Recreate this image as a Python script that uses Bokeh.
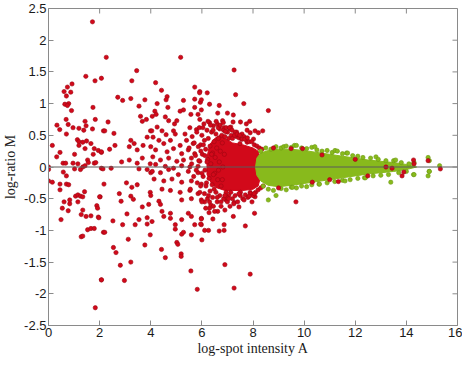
import math
from bokeh.plotting import figure
from bokeh.models import FixedTicker, NumeralTickFormatter, Range1d
from bokeh.embed import file_html
from bokeh.resources import INLINE

# ---------------- data ----------------
x_ticks = [0, 2, 4, 6, 8, 10, 12, 14, 16]
y_ticks = [-2.5, -2, -1.5, -1, -0.5, 0, 0.5, 1, 1.5, 2, 2.5]
x_min, x_max = 0, 16
y_min, y_max = -2.5, 2.5

# sparse red spots (A, M)
red_A = [
    # A 0-2 upper
    1.72, 1.46, 1.82, 2.07, 0.92, 0.74, 0.61, 0.87, 0.70, 0.64, 0.79, 0.74, 1.74, 0.90,
    0.33, 0.44, 0.69, 0.77, 0.96, 1.19, 1.43, 1.47, 1.38, 1.83, 1.72, 2.15, 0.70, 0.15,
    0.32, 0.45, 1.13, 1.19, 1.34, 1.49, 1.66, 1.79, 1.95, 1.19, 1.43, 1.02, 1.75, 1.53,
    1.56, 1.79, 1.85, 2.07, 0.57, 0.67, 0.96, 1.15, 1.25, 1.34, 1.43, 1.02, 0.0, 0.0, 2.07,
    # A 0-2 lower
    0.58, 0.70, 0.0, 0.15, 0.45, 0.70, 0.79, 0.45, 1.41, 1.06, 1.15, 1.25, 1.34, 2.02,
    0.61, 0.83, 0.83, 1.15, 0.54, 0.77, 1.34, 1.28, 1.47, 1.66, 1.89, 1.92, 1.95, 0.49,
    1.28, 1.34, 1.53, 1.66, 1.79, 2.15, 2.07, 1.83,
    # A 2-4 upper
    2.26, 3.45, 3.26, 2.71, 2.90, 3.22, 3.77, 3.54, 3.60, 3.67, 3.83, 2.33, 2.20, 2.56,
    2.60, 2.07, 2.39, 3.22, 3.35, 3.16, 3.47, 3.70, 3.86, 3.99, 2.86, 3.16, 3.47, 3.67,
    2.13, 2.45, 3.54, 3.86, 3.98,
    # A 2-4 lower
    2.17, 2.00, 2.77, 3.05, 3.26, 3.47, 2.84, 3.22, 3.32, 1.97, 2.52, 2.90, 3.07, 3.39,
    3.54, 3.67, 3.92, 2.20, 3.12, 3.98, 3.77, 2.54, 2.64, 2.81, 3.22, 2.07, 2.97, 3.98,
    3.86, 4.05, 3.86,
    # A 4-6 upper
    5.17, 4.19, 4.42, 5.72, 5.92, 4.64, 4.60, 5.28, 5.72, 5.94, 4.25, 4.67, 5.28, 5.15,
    5.72, 5.98, 4.16, 4.06, 4.21, 4.57, 4.70, 4.93, 5.02, 5.57, 5.85, 5.92, 4.25, 4.04,
    4.44, 4.60, 4.89, 4.96, 5.34, 5.53, 5.79, 4.09, 4.32, 4.51, 4.77, 5.15, 5.40, 5.66,
    4.00, 4.19, 4.64, 4.89, 5.21, 5.47, 5.72, 4.08, 4.38, 4.70, 5.02, 5.28, 5.59, 5.92,
    4.19, 4.57, 4.89, 5.21, 5.53, 5.85, 4.00,
    # A 4-6 lower
    4.06, 4.38, 4.70, 5.08, 5.47, 5.85, 4.13, 4.51, 4.83, 5.21, 5.59, 5.98, 4.44, 4.77,
    5.15, 5.53, 5.85, 4.00, 5.21, 5.59, 5.98, 4.32, 4.38, 4.44, 4.51, 4.77, 4.77, 4.96,
    4.96, 5.21, 5.47, 5.59, 5.98, 5.98, 5.72, 5.21, 5.28, 5.02, 5.06, 5.19, 5.19, 5.59,
    4.42, 4.57, 5.57, 5.82,
    # A 6-8 outer
    7.26, 7.32, 7.64, 5.91, 6.21, 5.98, 6.30, 6.68, 7.00, 7.23, 7.22, 7.51, 7.74, 7.87,
    7.77, 6.81, 6.62, 6.87, 7.13, 7.36, 7.57, 7.89, 8.08, 8.02, 7.77, 7.49, 8.21, 8.38,
    6.90, 7.26, 7.89, 6.00, 6.11, 6.26, 6.68, 6.87, 6.87, 7.70, 5.95, 5.98, 6.43, 7.23,
    8.06, 7.96, 7.45, 7.26, 6.62, 6.30, 6.11, 6.94, 7.13, 7.51, 7.89, 8.08, 8.60,
    # A 6-8 dense edge
    5.90, 5.95, 6.00, 6.02, 6.08, 6.10, 6.12, 6.15, 6.20, 6.22, 6.25, 6.28, 6.30, 6.32,
    6.35, 6.38, 6.40, 6.42, 6.45, 6.48, 6.50, 6.52, 6.55, 6.58, 6.60, 6.62, 6.65, 6.68,
    6.70, 6.72, 6.75, 6.78, 6.80, 6.82, 6.85, 6.88, 6.90, 6.95, 7.00, 7.05, 7.10, 7.15,
    7.20, 7.30, 7.35, 7.45, 7.55, 7.65, 7.75, 7.85, 7.95, 8.05, 8.15, 8.25, 8.35,
    5.95, 6.00, 6.05, 6.10, 6.15, 6.18, 6.22, 6.28, 6.32, 6.35, 6.42, 6.45, 6.50, 6.55,
    6.60, 6.65, 6.70, 6.75, 6.80, 6.85, 6.90, 6.95, 7.00, 7.05, 7.10, 7.20, 7.30, 7.40,
    7.50, 7.60, 7.70, 7.80, 7.90, 8.00, 8.10, 8.20, 8.30, 8.40,
    # A 5.5-7.8 extra speckles
    5.50, 5.55, 5.60, 5.62, 5.68, 5.70, 5.75, 5.78, 5.80, 5.82, 5.86, 5.88, 5.92, 5.96,
    6.00, 6.04, 6.06, 6.12, 6.16, 6.20, 6.24, 6.26, 6.34, 6.38, 6.44, 6.48, 6.56, 6.64,
    6.72, 6.84, 6.92, 6.98, 7.08, 7.18, 7.28, 7.38, 7.48, 7.58, 7.68, 7.78,
    6.30, 6.45, 6.60, 6.75, 6.90, 7.05, 7.25, 7.45, 7.65, 7.85, 8.05,
]
red_M = [
    2.29, 1.43, 1.36, 1.40, 1.31, 1.26, 1.19, 1.18, 1.12, 0.99, 1.00, 0.97, 0.94, 0.89,
    0.66, 0.59, 0.75, 0.67, 0.62, 0.61, 0.72, 0.65, 0.58, 0.75, 0.60, 0.57, 0.52, 0.34,
    0.16, 0.23, 0.43, 0.40, 0.39, 0.41, 0.37, 0.29, 0.26, 0.34, 0.29, 0.20, 0.20, 0.11,
    0.07, 0.06, 0.07, 0.23, 0.06, 0.06, 0.06, 0.05, -0.04, 0.00, 0.02, -0.03, 0.00, -0.04, -0.02,
    -0.08, -0.14, -0.22, -0.24, -0.27, -0.27, -0.28, -0.36, -0.39, -0.46, -0.44, -0.46, -0.47, -0.47,
    -0.55, -0.52, -0.58, -0.55, -0.65, -0.69, -0.68, -0.75, -0.78, -0.77, -0.61, -0.65, -0.79, -0.83,
    -1.10, -1.09, -0.99, -0.97, -0.97, -1.03, -1.78, -2.22,
    1.73, 1.52, 1.36, 1.10, 1.05, 1.08, 1.06, 0.96, 0.80, 0.72, 0.75, 0.71, 0.57, 0.53,
    0.34, 0.24, 0.28, 0.42, 0.37, 0.32, 0.27, 0.34, 0.47, 0.57, 0.08, 0.11, 0.06, 0.14,
    -0.03, -0.02, -0.03, -0.04, 0.05,
    -0.27, -0.47, -0.42, -0.25, -0.32, -0.28, -0.54, -0.46, -0.51, -0.80, -0.85, -0.91, -0.74, -0.91,
    -0.83, -0.63, -0.59, -1.03, -1.14, -1.07, -1.23, -1.27, -1.35, -1.55, -1.50, -1.78, -1.79, -0.40,
    -0.80, -0.86, -0.90,
    1.73, 1.33, 1.21, 1.26, 1.19, 1.11, 1.06, 1.05, 1.07, 1.02, 1.00, 0.94, 0.90, 0.88,
    0.94, 0.90, 0.88, 0.80, 0.83, 0.79, 0.73, 0.68, 0.73, 0.83, 0.83, 0.75, 0.63, 0.57,
    0.57, 0.51, 0.57, 0.52, 0.52, 0.62, 0.59, 0.47, 0.42, 0.37, 0.42, 0.34, 0.42, 0.37,
    0.32, 0.27, 0.24, 0.29, 0.21, 0.27, 0.21, 0.16, 0.11, 0.14, 0.09, 0.11, 0.14, 0.09,
    0.04, 0.01, -0.02, 0.02, 0.00, 0.01, -0.09,
    -0.07, -0.09, -0.04, -0.12, -0.07, -0.09, -0.19, -0.22, -0.19, -0.24, -0.22, -0.27, -0.35, -0.37,
    -0.40, -0.37, -0.42, -0.45, -0.52, -0.50, -0.52, -0.54, -0.59, -0.70, -0.78, -0.73, -0.81, -0.91,
    -0.98, -0.83, -0.73, -0.78, -0.81, -0.91, -0.91, -1.06, -1.03, -1.19, -1.22, -1.37, -1.41, -1.07,
    -1.30, -1.43, -1.64, -1.93,
    1.53, 1.14, 1.00, 1.17, 1.17, 1.06, 0.99, 0.97, 0.85, 0.82, 0.71, 0.71, 0.68, 0.72,
    0.58, 0.73, 0.85, 0.62, 0.63, 0.55, 0.52, 0.54, 0.57, 0.44, 0.39, 0.37, 0.54, 0.57,
    -1.54, -1.91, -1.69, -1.15, -1.00, -1.00, -1.01, -1.00, -0.91, -0.93, -0.90, -0.82, -0.82, -0.78,
    -0.73, -0.55, -0.63, -0.56, -0.70, -0.65, -0.55, -0.52, -0.40, -0.40, -0.40, -0.47, 0.89,
    0.62, 0.35, 0.50, 0.20, 0.68, 0.42, -0.05, 0.28, 0.58, 0.12, 0.45, -0.18, 0.70, 0.33,
    0.05, 0.55, -0.28, 0.22, 0.65, 0.40, -0.10, 0.15, 0.52, 0.30, 0.68, -0.20, 0.45, 0.08,
    0.60, 0.25, -0.30, 0.50, 0.38, 0.00, 0.58, 0.20, 0.48, 0.62, 0.55, 0.45, 0.60, 0.50,
    0.45, 0.55, 0.48, 0.46, 0.44, 0.48, 0.42, 0.40, 0.40, 0.35, 0.33, 0.30, 0.28,
    -0.30, -0.55, -0.15, -0.42, -0.65, -0.25, -0.50, -0.72, -0.38, -0.60, -0.48, -0.12, -0.70, -0.40,
    -0.55, -0.05, -0.45, -0.62, -0.20, -0.50, -0.68, -0.40, -0.55, -0.45, -0.62, -0.50, -0.45, -0.55,
    -0.45, -0.50, -0.44, -0.48, -0.42, -0.45, -0.40, -0.36, -0.33, -0.30,
    0.30, -0.35, 0.05, 0.48, -0.15, 0.38, 0.18, -0.05, 0.55, -0.25, 0.32, 0.10, -0.40, 0.25,
    -0.10, 0.62, 0.35, 0.18, -0.30, 0.08, 0.72, -0.45, 0.66, 0.20, 0.58, -0.35, 0.72, 0.62,
    0.66, 0.70, 0.56, -0.48, 0.62, 0.58, 0.50, 0.52, 0.50, 0.44, 0.44, 0.46,
    -0.55, -0.62, -0.48, -0.55, -0.45, -0.50, -0.58, -0.42, -0.52, -0.46, -0.42,
]

# envelope of the solid red cloud
red_core_A = [6.2, 6.3, 6.5, 6.7, 6.9, 7.2, 7.6, 8.0, 8.2, 8.3,
              8.3, 8.2, 8.0, 7.6, 7.2, 6.9, 6.6, 6.4, 6.2]
red_core_M = [0.15, 0.35, 0.45, 0.50, 0.45, 0.38, 0.35, 0.30, 0.25, 0.12,
              -0.15, -0.30, -0.35, -0.37, -0.37, -0.37, -0.33, -0.28, -0.12]

# envelope of the solid green cloud
green_core_A = [8.10, 8.15, 8.3, 8.6, 9.0, 9.5, 10.0, 10.5, 11.0, 11.5, 12.0, 12.5, 13.0, 13.5, 14.0, 14.4,
                14.0, 13.5, 13.0, 12.5, 12.0, 11.5, 11.0, 10.5, 10.0, 9.5, 9.0, 8.6, 8.3, 8.15]
green_core_M = [0.00, 0.14, 0.22, 0.26, 0.28, 0.28, 0.26, 0.23, 0.20, 0.17, 0.14, 0.11, 0.09, 0.07, 0.04, 0.00,
                -0.04, -0.07, -0.09, -0.11, -0.14, -0.17, -0.20, -0.23, -0.26, -0.29, -0.31, -0.29, -0.22, -0.13]

# green spots on the cloud's edges
green_A = [8.30, 8.50, 8.70, 8.90, 9.10, 9.20, 9.30, 9.50, 9.62, 9.70, 9.90, 10.10, 10.30, 10.42, 10.50,
           10.70, 10.90, 11.10, 11.21, 11.30, 11.50, 11.66, 11.70, 11.90, 12.10, 12.30, 12.60, 12.81, 12.90,
           13.20, 13.50, 13.58, 13.80, 14.10, 14.28, 14.30, 14.85, 14.90,
           8.40, 8.60, 8.80, 8.90, 8.60, 9.10, 9.30, 9.50, 9.55, 9.70, 9.90, 10.10, 10.30, 10.58, 10.60,
           10.90, 11.20, 11.50, 11.60, 11.80, 12.10, 12.36, 12.40, 12.70, 13.00, 13.30, 13.39, 13.70,
           14.00, 14.28, 14.30, 14.85, 14.89, 14.90, 15.30]
green_M = [0.25, 0.30, 0.28, 0.32, 0.30, 0.32, 0.33, 0.31, 0.34, 0.34, 0.30, 0.29, 0.31, 0.32, 0.27,
           0.25, 0.26, 0.23, 0.26, 0.25, 0.21, 0.22, 0.22, 0.18, 0.17, 0.15, 0.14, 0.16, 0.12,
           0.10, 0.10, 0.11, 0.07, 0.05, 0.05, 0.07, 0.15, 0.10,
           -0.30, -0.35, -0.37, -0.45, -0.52, -0.34, -0.36, -0.32, -0.32, -0.33, -0.30, -0.31, -0.28, -0.27, -0.27,
           -0.25, -0.23, -0.21, -0.22, -0.20, -0.18, -0.17, -0.17, -0.14, -0.13, -0.12, -0.24, -0.09,
           -0.07, -0.12, -0.12, -0.14, -0.07, -0.07, 0.02]

# red spots lying over the green cloud
red_top_A = [9.68, 14.28, 14.85, 15.33, 13.83, 13.44, 13.20, 12.49, 11.34, 10.70, 10.32, 9.49, 9.94,
             13.90, 14.30, 12.00, 11.00, 8.80, 9.00]
red_top_M = [-0.55, 0.11, 0.10, -0.03, -0.14, -0.02, 0.00, -0.14, -0.23, 0.19, -0.24, 0.29, 0.29,
             -0.08, 0.05, 0.12, -0.20, 0.30, -0.33]

zero_A = [x_min, x_max]
zero_M = [0, 0]

# ---------------- figure ----------------
RED = "#d2091a"
RED_EDGE = "#9e0712"
GREEN = "#88ba1c"
GREEN_EDGE = "#6d9a12"
AXIS = "#8a8a8a"
SIZE = 4.3

p = figure(width=462, height=358, x_range=Range1d(x_min, x_max), y_range=Range1d(y_min, y_max),
           output_backend="svg", toolbar_location=None,
           min_border_left=0, min_border_right=5, min_border_top=8, min_border_bottom=0)
p.grid.visible = False
p.outline_line_color = AXIS
p.background_fill_color = "white"
p.border_fill_color = "white"

p.patch(red_core_A, red_core_M, fill_color=RED, line_color=RED, line_width=1)
p.scatter(red_A, red_M, size=SIZE, fill_color=RED, line_color=RED_EDGE, line_width=0.6)
p.patch(green_core_A, green_core_M, fill_color=GREEN, line_color=GREEN, line_width=1)
p.scatter(green_A, green_M, size=SIZE, fill_color=GREEN, line_color=GREEN_EDGE, line_width=0.6)
p.scatter(red_top_A, red_top_M, size=SIZE, fill_color=RED, line_color=RED_EDGE, line_width=0.6)
p.line(zero_A, zero_M, line_color="#5a5a5a", line_width=1)

# inward ticks on the top and right edges of the box
p.ray(x=x_ticks, y=[y_max] * len(x_ticks), length=5, length_units="screen",
      angle=-math.pi / 2, line_color=AXIS, line_width=1)
p.ray(x=[x_max] * len(y_ticks), y=y_ticks, length=5, length_units="screen",
      angle=math.pi, line_color=AXIS, line_width=1)

def style(ax):
    ax.axis_line_color = AXIS
    ax.major_tick_line_color = AXIS
    ax.major_tick_in = 5
    ax.major_tick_out = 0
    ax.minor_tick_line_color = None
    ax.major_label_text_font = "Liberation Sans"
    ax.major_label_text_font_size = "13px"
    ax.major_label_text_color = "#1a1a1a"
    ax.major_label_standoff = 2
    ax.axis_label_text_font = "Liberation Serif"
    ax.axis_label_text_font_size = "14px"
    ax.axis_label_text_font_style = "normal"
    ax.axis_label_text_color = "#1a1a1a"
    ax.axis_label_standoff = 1

xa = p.xaxis[0]
xa.ticker = FixedTicker(ticks=x_ticks)
xa.formatter = NumeralTickFormatter(format="0.[0]")
xa.axis_label = "log-spot intensity A"
style(xa)

ya = p.yaxis[0]
ya.ticker = FixedTicker(ticks=y_ticks)
ya.formatter = NumeralTickFormatter(format="0.[0]")
ya.axis_label = "log-ratio M"
style(ya)
ya.axis_label_standoff = 3

open("out.html", "w").write(file_html(p, INLINE))
